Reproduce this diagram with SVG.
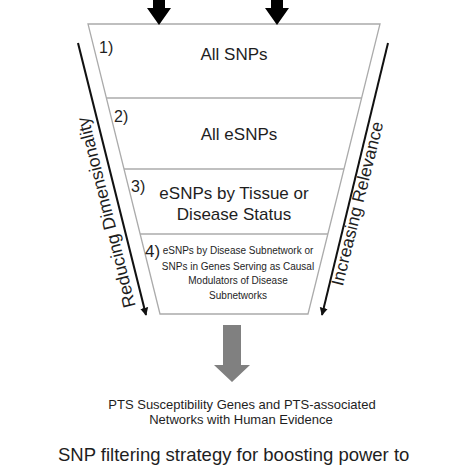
<svg xmlns="http://www.w3.org/2000/svg" width="474" height="474" viewBox="0 0 474 474">
<defs>
<style>
text{font-family:"Liberation Sans",Arial,sans-serif;fill:#1e1e1e}
.edge{stroke:#ababab;stroke-width:1.3;fill:none}
.dia{stroke:#111;stroke-width:2;fill:none}
</style>
<marker id="ah" viewBox="0 0 10 10" refX="9" refY="5" markerWidth="4" markerHeight="5" markerUnits="strokeWidth" orient="auto">
<path d="M0,0 L10,5 L0,10 z" fill="#111"/>
</marker>
</defs>
<rect width="474" height="474" fill="#fff"/>
<g id="funnel">
<polygon class="edge" points="88,24 380,24 308,314 160,314"/>
</g>
<g id="stage1">
<line class="edge" x1="106.4" y1="98" x2="361.6" y2="98"/>
<text x="99" y="53" font-size="16">1)</text>
<text x="234" y="60" font-size="17" text-anchor="middle">All SNPs</text>
</g>
<g id="stage2">
<line class="edge" x1="124" y1="169" x2="344" y2="169"/>
<text x="114" y="122" font-size="16">2)</text>
<text x="239" y="140" font-size="17" text-anchor="middle">All eSNPs</text>
</g>
<g id="stage3">
<line class="edge" x1="140.1" y1="234" x2="327.9" y2="234"/>
<text x="131" y="192" font-size="16">3)</text>
<text x="234" y="199" font-size="17" text-anchor="middle">eSNPs by Tissue or</text>
<text x="234" y="220" font-size="17" text-anchor="middle">Disease Status</text>
</g>
<g id="stage4">
<text x="145" y="257" font-size="17">4)</text>
<text x="238" y="254" font-size="10" text-anchor="middle">eSNPs by Disease Subnetwork or</text>
<text x="238" y="270" font-size="10" text-anchor="middle">SNPs in Genes Serving as Causal</text>
<text x="238" y="284" font-size="10" text-anchor="middle">Modulators of Disease</text>
<text x="238" y="299" font-size="10" text-anchor="middle">Subnetworks</text>
</g>
<g id="connectors">
<path d="M153,0 V8 H147 L159,25 L171,8 H165 V0 z" fill="#000"/>
<path d="M271,0 V8 H265 L277,25 L289,8 H283 V0 z" fill="#000"/>
<line class="dia" x1="78" y1="43" x2="146" y2="315" marker-end="url(#ah)"/>
<line class="dia" x1="388" y1="43" x2="322" y2="315" marker-end="url(#ah)"/>
<path d="M223,325 H241 V365 H250 L232,382 L214,365 H223 z" fill="#808080"/>
</g>
<g id="side-labels">
<text x="0" y="0" font-size="17.8" text-anchor="middle" transform="translate(112,211) rotate(-104)">Reducing Dimensionality</text>
<text x="0" y="0" font-size="17.5" text-anchor="middle" transform="translate(363,205) rotate(-76)">Increasing Relevance</text>
</g>
<g id="result">
<text x="242" y="409" font-size="13" text-anchor="middle">PTS Susceptibility Genes and PTS-associated</text>
<text x="241" y="424" font-size="13" text-anchor="middle">Networks with Human Evidence</text>
</g>
<g id="caption">
<text x="58" y="461" font-size="18.5">SNP filtering strategy for boosting power to</text>
</g>
</svg>
